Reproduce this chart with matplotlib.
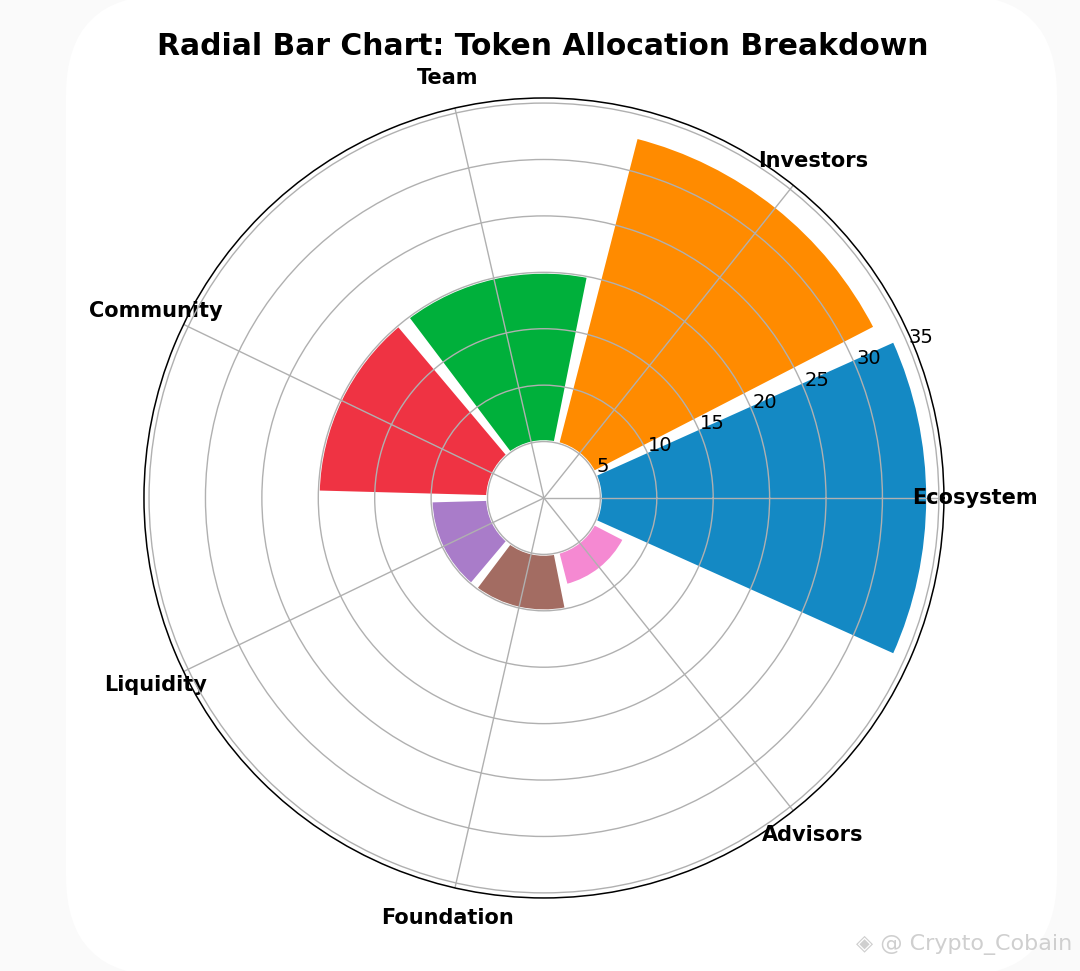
import matplotlib
matplotlib.use("Agg")
import matplotlib.pyplot as plt
from matplotlib.patches import FancyBboxPatch
import numpy as np

categories = ['Ecosystem', 'Investors', 'Team', 'Community', 'Liquidity', 'Foundation', 'Advisors']
allocation = [29, 28, 15, 15, 5, 5, 3]
inner = 5
colors = ['#1489c4', '#ff8b00', '#00b03b', '#ef3343', '#a97cc9', '#a36c62', '#f589d2']

fig = plt.figure(figsize=(10.8, 9.71), dpi=100, facecolor='#fafafa')

# white card with rounded corners behind the chart
card = FancyBboxPatch((0.66, -0.05), 9.91, 9.81, boxstyle='round,pad=0,rounding_size=1.0',
                      transform=fig.dpi_scale_trans, facecolor='white', edgecolor='none', zorder=0)
fig.add_artist(card)

ax = fig.add_axes([0.1333, 0.0752, 0.7407, 0.8239], projection='polar')

n = len(categories)
angles = np.arange(n) * 2 * np.pi / n
ax.bar(angles, allocation, width=0.94 * 2 * np.pi / n, bottom=inner,
       color=colors, edgecolor='white', linewidth=2)

ax.set_xticks(angles)
ax.set_xticklabels(categories, fontsize=15, fontweight='bold')
ax.tick_params(axis='x', pad=12)
ax.tick_params(axis='y', labelsize=14)
ax.grid(True, linewidth=1.0)
ax.spines['polar'].set_linewidth(1.1)

fig.text(0.503, 0.9433, 'Radial Bar Chart: Token Allocation Breakdown',
         fontsize=21.4, fontweight='bold', ha='center', va='baseline')

fig.text(0.993, 0.027, '◈ @ Crypto_Cobain', fontsize=16, color='#cfcfcf',
         ha='right', va='center')

fig.savefig('out.png', dpi=100, facecolor=fig.get_facecolor())
